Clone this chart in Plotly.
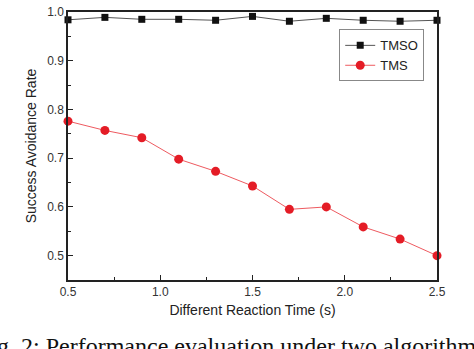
import plotly.graph_objects as go

reaction_time = [0.5, 0.7, 0.9, 1.1, 1.3, 1.5, 1.7, 1.9, 2.1, 2.3, 2.5]
tmso = [0.984, 0.989, 0.985, 0.985, 0.983, 0.991, 0.981, 0.987, 0.983, 0.981, 0.983]
tms = [0.776, 0.757, 0.742, 0.698, 0.673, 0.643, 0.595, 0.600, 0.559, 0.534, 0.500]
x_ticks = [0.5, 1.0, 1.5, 2.0, 2.5]
y_ticks = [0.5, 0.6, 0.7, 0.8, 0.9, 1.0]

fig = go.Figure()
fig.add_trace(go.Scatter(
    x=reaction_time, y=tmso, name="TMSO", mode="lines+markers",
    line=dict(color="#555555", width=1),
    marker=dict(symbol="square", size=7, color="#111111"),
    cliponaxis=False,
))
fig.add_trace(go.Scatter(
    x=reaction_time, y=tms, name="TMS", mode="lines+markers",
    line=dict(color="#ee5a60", width=1),
    marker=dict(symbol="circle", size=9, color="#e41c26"),
    cliponaxis=False,
))

axis_common = dict(
    showgrid=False, zeroline=False, showline=True, linecolor="#222222",
    linewidth=1.5, mirror=True, ticks="inside", ticklen=5, tickwidth=1,
    tickcolor="#222222", tickfont=dict(family="Liberation Sans, Arial", size=12, color="#333333"),
)

fig.update_layout(
    width=474, height=349,
    margin=dict(l=68, r=37, t=5, b=69),
    paper_bgcolor="white", plot_bgcolor="white",
    showlegend=True,
    legend=dict(
        x=0.735, y=0.935, xanchor="left", yanchor="top",
        bordercolor="#888888", borderwidth=1, bgcolor="white",
        font=dict(family="Liberation Sans, Arial", size=13, color="#222222"),
        tracegroupgap=0, itemwidth=30,
    ),
    xaxis=dict(
        range=[0.5, 2.5], tickvals=x_ticks, ticktext=[f"{v:.1f}" for v in x_ticks],
        minor=dict(ticks="inside", ticklen=3, dtick=0.25, tickcolor="#222222"),
        title=dict(text="Different Reaction Time (s)", standoff=7,
                   font=dict(family="Liberation Sans, Arial", size=14, color="#222222")),
        **axis_common,
    ),
    yaxis=dict(
        range=[0.45, 1.0], tickvals=y_ticks, ticktext=[f"{v:.1f}" for v in y_ticks],
        minor=dict(ticks="inside", ticklen=3, dtick=0.05, tickcolor="#222222"),
        title=dict(text="Success Avoidance Rate", standoff=7,
                   font=dict(family="Liberation Sans, Arial", size=14, color="#222222")),
        **axis_common,
    ),
    annotations=[dict(
        text="Fig. 2: Performance evaluation under two algorithms",
        xref="paper", yref="paper", x=-0.252, y=-0.192,
        xanchor="left", yanchor="top", showarrow=False,
        font=dict(family="Liberation Serif, Times New Roman", size=24, color="#111111"),
    )],
)

fig.write_html("out.html")
